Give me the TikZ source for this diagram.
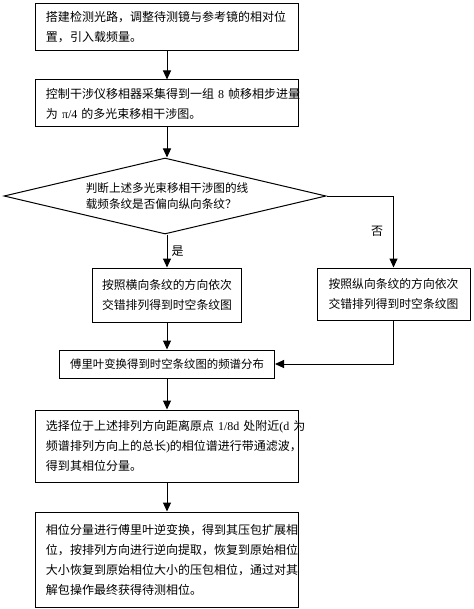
\documentclass[tikz,border=0pt]{standalone}
\usepackage{fontspec}
\setmainfont{Liberation Serif}
\newfontfamily\cjk{Noto Sans CJK SC}
\newcommand\lt[1]{{\rmfamily #1}}
\usetikzlibrary{arrows.meta,shapes.geometric}
\tikzset{
  box/.style={draw, line width=1bp, inner xsep=10bp, inner ysep=0pt, font=\cjk\fontsize{12bp}{20bp}\selectfont},
  wide/.style={box, text width=242bp, align=left, minimum width=262bp},
  cbox/.style={box, align=center},
  arr/.style={line width=1bp, -{Triangle[length=9bp,width=8bp]}},
  lab/.style={font=\cjk\fontsize{12bp}{14bp}\selectfont, inner sep=1bp}
}
\begin{document}
\begin{tikzpicture}[x=1bp,y=-1bp]
\useasboundingbox (0,0) rectangle (474,609);
\node[wide, minimum height=47bp] (b1) at (167,27.5) {搭建检测光路，调整待测镜与参考镜的相对位\\置，引入载频量。};
\node[wide, minimum height=47bp] (b2) at (167,103.5) {控制干涉仪移相器采集得到一组~\lt{8}~帧移相步进量\\为~\lt{π/4}~的多光束移相干涉图。};
\node[diamond, draw, line width=1bp, minimum width=322bp, minimum height=76bp, inner sep=0pt] (dia) at (165,196) {};
\node[align=left, font=\cjk\fontsize{11.6bp}{16bp}\selectfont, inner sep=0pt] (dt) at (167,196) {判断上述多光束移相干涉图的线\\载频条纹是否偏向纵向条纹？};
\node[cbox, minimum width=145bp, minimum height=54bp, font=\cjk\fontsize{11.8bp}{19.5bp}\selectfont] (bl) at (167,295) {按照横向条纹的方向依次\\交错排列得到时空条纹图};
\node[cbox, minimum width=153bp, minimum height=52bp, font=\cjk\fontsize{11.8bp}{19.5bp}\selectfont] (br) at (393.5,294) {按照纵向条纹的方向依次\\交错排列得到时空条纹图};
\node[cbox, minimum width=215bp, minimum height=28bp, font=\cjk\fontsize{11.4bp}{14bp}\selectfont] (fft) at (167,364) {傅里叶变换得到时空条纹图的频谱分布};
\node[wide, minimum height=72bp] (b5) at (167,446) {选择位于上述排列方向距离原点~\lt{1/8d}~处附近\lt{(d}~为\\频谱排列方向上的总长\lt{)}的相位谱进行带通滤波，\\得到其相位分量。};
\node[wide, minimum height=95bp] (b6) at (167,559.5) {相位分量进行傅里叶逆变换，得到其压包扩展相\\位，按排列方向进行逆向提取，恢复到原始相位\\大小恢复到原始相位大小的压包相位，通过对其\\解包操作最终获得待测相位。};
\draw[arr] (b1) -- (b2);
\draw[arr] (b2.south) -- (b2.south |- dia.north);
\draw[arr] (b2.south |- dia.south) -- node[lab, right=3bp] {是} (bl.north);
\draw[arr] (dia.east) -| node[lab, pos=0.75, left=9bp] {否} (br.north);
\draw[arr] (bl) -- (fft);
\draw[arr] (br.south) |- (fft.east);
\draw[arr] (fft) -- (b5);
\draw[arr] (b5) -- (b6);
\end{tikzpicture}
\end{document}
